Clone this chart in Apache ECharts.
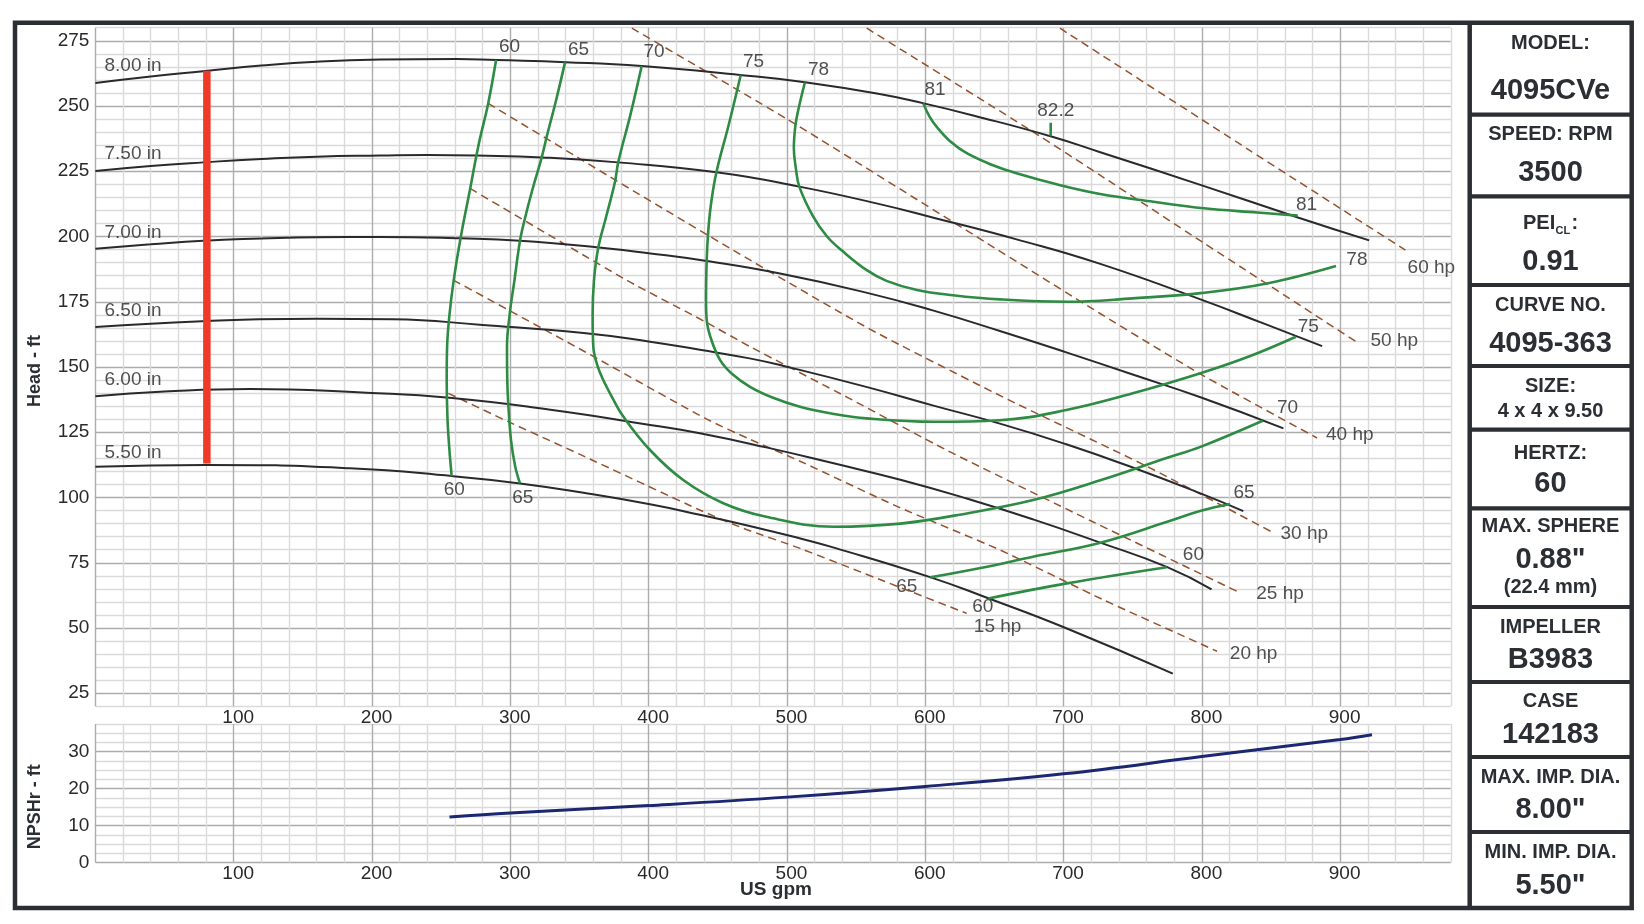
<!DOCTYPE html>
<html><head><meta charset="utf-8">
<script src="https://cdn.jsdelivr.net/npm/echarts/dist/echarts.min.js"></script>
<style>html,body{margin:0;padding:0;background:#fff;}#c{width:1644px;height:924px;}</style>
</head><body><div id="c"></div>
<script>
// ---------- data (US gpm, ft) ----------
const flowTicks = [100, 200, 300, 400, 500, 600, 700, 800, 900];
const headTicks = [25, 50, 75, 100, 125, 150, 175, 200, 225, 250, 275];
const npshTicks = [0, 10, 20, 30];

const imp800 = [[0,258.8],[40,261.3],[78,263.3],[120,265.5],[160,267],[206,267.8],[261,268],[290,267.6],[340,266.8],[395,265.3],[466,261.9],[513,259.1],[567,254.6],[599,251],[636,246.2],[690,238.5],[726,232.4],[800,219.6],[870,207.2],[921,198.5]];
const imp750 = [[0,225.1],[40,227],[78,228.4],[120,229.7],[160,230.6],[206,231],[240,231.2],[276,231],[323,230.3],[378,228.4],[449,224.6],[508,219.2],[567,212.4],[606,207.2],[666,198.9],[726,189.6],[799,175.9],[845,166.6],[887,158]];
const imp700 = [[0,195.3],[40,197],[78,198.4],[120,199.2],[160,199.7],[205,199.8],[264,199.3],[307,198.4],[364,195.8],[400,193.6],[442,190.6],[495,185.8],[558,178.4],[606,171.6],[654,163.8],[702,155.6],[750,147.1],[799,138.4],[859,126.5]];
const imp650 = [[0,165.3],[40,166.6],[80,167.6],[112,168.2],[160,168.5],[215,168.3],[280,166.1],[353,163],[401,159.7],[437,156.6],[473,153.3],[497,150.5],[558,142.3],[606,135.2],[654,128.3],[702,120.4],[750,111.5],[799,101.6],[830,94.8]];
const imp600 = [[0,138.8],[50,140.6],[112,141.6],[196,140.1],[256,138.2],[329,133.6],[401,127.8],[437,124.6],[485,119.2],[533,113.2],[582,106.8],[630,99.6],[678,91.6],[726,82.8],[775,73.3],[807,64.8]];
const imp550 = [[0,111.8],[80,112.5],[184,111.2],[258,108.2],[307,105.4],[353,101.8],[401,97.4],[437,93.4],[473,89.1],[509,84.4],[534,80.8],[604,69.4],[646,61.3],[702,49.9],[779,32.5]];

const eff60 = [[289.7,267.6],[284,251],[277,235],[271,218.4],[264,199.3],[259,183],[256,170],[254.3,157.8],[254,145],[254.6,130],[256,118],[257.6,108.2]];
const eff65 = [[339.6,266.8],[333,252],[326.3,238.2],[322.7,230.3],[316,218],[310.6,207],[307,198.4],[303,183.3],[299.5,170],[297.6,157.8],[297.8,145],[298.5,136],[300.5,122],[303.5,112],[307,105.4]];
const eff70 = [[395,265.3],[387,247],[378,228.4],[375.7,221],[369,207],[363.6,195.8],[360.5,183.3],[359.5,170],[360,157.8],[363,150.5],[367.2,145],[374,138],[381.7,131],[401,118.2],[425,106.7],[454,97.8],[485,92.6],[534,88.8],[582,90],[630,93.9],[678,99],[726,106.5],[775,115.2],[799,119.4],[844,129.4]];
const eff75 = [[466.6,261.9],[458,243],[449,224.6],[445,212],[443,201.2],[442,191],[441.5,175.6],[442,168],[445,161],[451.6,152.7],[460,147.5],[473.3,142.4],[490,138.2],[509.4,134.8],[534,132],[557.7,130.3],[606,129],[654,129.6],[702,133.5],[750,139.9],[799,147.6],[834,154],[868,161.6]];
const eff78 = [[513,259.1],[508,248],[506,242],[505,233.8],[506.5,226],[509,219],[519,207.6],[529,200],[540,194.5],[557.7,187.1],[572,183],[594,179.5],[620,177.5],[654,175.9],[702,175],[750,176.3],[799,178.3],[847,182],[897,188.7]];
const eff81 = [[598.6,251],[603,246],[608.3,242],[618,236.5],[630,231.9],[648,227.5],[666,224.2],[695,220],[726.4,216.3],[765,213.3],[801.6,210.8],[840,209.2],[869.4,208]];
const eff822 = [[690.7,238.4],[690.7,243.6]];
const eff65low = [[603.5,69.4],[640,73],[678,77.3],[726,82.6],[775,90.7],[800,95],[820.4,97.5]];
const eff60low = [[645.6,61.3],[702.3,67.1],[774.6,73.3]];

const hp15 = [[255.2,139.9],[300,128.7],[350,116.6],[437,95.2],[468.5,88.2],[509.5,80.5],[570,68],[630,55.6]];
const hp20 = [[258.8,183.3],[350,157],[441,130.3],[473.3,122.3],[509.5,113.9],[580,96.5],[654,79.9],[730,60.5],[811,41.1]];
const hp25 = [[270.9,218.4],[384,183.3],[441,167.3],[473.3,157.8],[545,138],[615.6,118.1],[720,91],[827.6,63.5]];
const hp30 = [[284,251],[370,223.5],[461,194.8],[560,164.5],[660,137.5],[760,112],[851.7,86.5]];
const hp40 = [[387.9,279.8],[500,245],[644.5,197.5],[726.4,170.5],[800,147],[883.3,122.8]];
const hp50 = [[557.7,279.8],[678,240.1],[726.4,223.5],[800,198],[913.3,159.1]];
const hp60 = [[697.4,279.8],[834.3,233.1],[947.2,194.8]];

const npshr = [[256,12.3],[300,13.4],[400,15.4],[500,17.7],[600,20.6],[700,24.0],[800,28.7],[900,33.3],[923,34.6]];
const minFlowLine = [[80.6,113],[80.6,263.5]];

const effLabels = [[299.4,272.8,'60'],[349.3,271.7,'65'],[403.9,270.6,'70'],[475.8,266.9,'75'],[522.8,263.9,'78'],[607.1,256.1,'81'],[694.4,248,'82.2'],[875.7,212.1,'81'],[912.1,191.2,'78'],[876.9,165.4,'75'],[861.9,134.2,'70'],[830.5,101.9,'65'],[793.9,77.9,'60'],[586.6,65.8,'65'],[641.6,58.1,'60'],[259.5,103.1,'60'],[309,100,'65']];
const hpLabels = [[634.8,50.5,'15 hp'],[819.9,40,'20 hp'],[839,63.3,'25 hp'],[856.5,86.1,'30 hp'],[889.4,123.9,'40 hp'],[921.6,160,'50 hp'],[948.4,188.2,'60 hp']];
const diaLabels = [[6.2,265.4,'8.00 in'],[6.2,231.6,'7.50 in'],[6.2,201.6,'7.00 in'],[6.2,171.7,'6.50 in'],[6.2,145.2,'6.00 in'],[6.2,117,'5.50 in']];

const panelTitles = ['MODEL:','SPEED: RPM','','CURVE NO.','SIZE:','HERTZ:','MAX. SPHERE','IMPELLER','CASE','MAX. IMP. DIA.','MIN. IMP. DIA.'];
const panelValues = ['4095CVe','3500','0.91','4095-363','4 x 4 x 9.50','60','0.88"','B3983','142183','8.00"','5.50"'];
const panelExtra = ['','','','','','','(22.4 mm)','','','',''];

// ---------- layout / style ----------
const FF = "'Liberation Sans', Arial, Helvetica, sans-serif";
const INK = '#2b2e33';
const GRID_L = '#dadada', GRID_D = '#acacac';
const BLACK = '#2a2a2e', GREEN = '#2e8b43', BROWN = '#94532e';

const titleY = [43,134,223,305,386,453,526,627,701,777,852];
const valueY = [91,173,262,344,411,484,560,660,735,810,886];
const valueSize = [29,29,29,29,20,29,29,29,29,29,29];
const extraY = [0,0,0,0,0,0,587,0,0,0,0];
const dividerY = [114.7,196.3,285,366,429.7,508.3,607,682,757,832];
const PX = 1550.5;

const chart = echarts.init(document.getElementById('c'), null, {renderer:'canvas'});

function line(data, color, width, opts) {
  return Object.assign({type:'line', data: data, xAxisIndex:0, yAxisIndex:0, symbol:'none', showSymbol:false,
    clip:true, silent:true, animation:false, lineStyle:{color:color, width:width}}, opts || {});
}
function labels(arr, pos) {
  return {type:'scatter', xAxisIndex:0, yAxisIndex:0, silent:true, animation:false, symbolSize:1,
    itemStyle:{color:'rgba(0,0,0,0)'},
    data: arr.map(d => ({value:[d[0], d[1]], name:d[2]})),
    label:{show:true, position:pos, distance:0, formatter: p => p.name, color:'#262626', fontSize:19, fontFamily:FF}};
}

const series = [];
[hp15,hp20,hp25,hp30,hp40,hp50,hp60].forEach(d => series.push(line(d, BROWN, 1.5, {smooth:0.2, lineStyle:{color:BROWN, width:1.5, type:[8,5]}})));
[imp800,imp750,imp700,imp650,imp600,imp550].forEach(d => series.push(line(d, BLACK, 2, {smooth:0.5})));
[eff60,eff65,eff70,eff75,eff78,eff81,eff822,eff65low,eff60low].forEach(d => series.push(line(d, GREEN, 2.6, {smooth:0.4})));
series.push(line(minFlowLine, '#f03a28', 7.5, {lineStyle:{color:'#f03a28', width:7.5, cap:'butt'}}));
series.push(labels(effLabels, 'inside'));
series.push(labels(hpLabels, 'right'));
series.push(labels(diaLabels, 'right'));
series.push(line(npshr, '#1b2770', 3, {xAxisIndex:1, yAxisIndex:1, smooth:0.4}));

const xColors = [GRID_D, GRID_L, GRID_L, GRID_L, GRID_L];
function xAxis(gi) {
  return {gridIndex:gi, type:'value', min:0, max:980, interval:20,
    axisLine:{show:false}, axisTick:{show:false},
    splitLine:{show:true, lineStyle:{color:xColors, width:1.4}},
    axisLabel:{formatter: v => (flowTicks.indexOf(v) >= 0 ? String(v) : ''), color:'#2a2a2a', fontSize:19, fontFamily:FF, margin:2, padding:[0,0,0,9]}};
}

const graphic = [];
// axis titles
graphic.push({type:'text', x:34.6, y:371, rotation:Math.PI/2, style:{text:'Head - ft', fill:INK, font:'bold 18px ' + FF, align:'center', verticalAlign:'middle'}});
graphic.push({type:'text', x:34.6, y:806.7, rotation:Math.PI/2, style:{text:'NPSHr - ft', fill:INK, font:'bold 18px ' + FF, align:'center', verticalAlign:'middle'}});
graphic.push({type:'text', x:776, y:890, style:{text:'US gpm', fill:INK, font:'bold 19px ' + FF, align:'center', verticalAlign:'middle'}});
// frame
graphic.push({type:'rect', shape:{x:15, y:22.8, width:1616.7, height:885.2}, style:{fill:null, stroke:INK, lineWidth:4.5}, z:100});
graphic.push({type:'line', shape:{x1:1469.7, y1:22.8, x2:1469.7, y2:908}, style:{stroke:INK, lineWidth:4.5}, z:100});
dividerY.forEach(y => graphic.push({type:'line', shape:{x1:1469.7, y1:y, x2:1631.7, y2:y}, style:{stroke:INK, lineWidth:4.2}, z:100}));
// panel texts
panelTitles.forEach((t, i) => {
  if (t) graphic.push({type:'text', x:PX, y:titleY[i], style:{text:t, fill:INK, font:'bold 20px ' + FF, align:'center', verticalAlign:'middle'}, z:101});
  graphic.push({type:'text', x:PX, y:valueY[i], style:{text:panelValues[i], fill:INK, font:'bold ' + valueSize[i] + 'px ' + FF, align:'center', verticalAlign:'middle'}, z:101});
  if (panelExtra[i]) graphic.push({type:'text', x:PX, y:extraY[i], style:{text:panelExtra[i], fill:INK, font:'bold 20px ' + FF, align:'center', verticalAlign:'middle'}, z:101});
});
// PEI with subscript
graphic.push({type:'text', x:1523, y:223, style:{text:'PEI', fill:INK, font:'bold 20px ' + FF, align:'left', verticalAlign:'middle'}, z:101});
graphic.push({type:'text', x:1555.5, y:231, style:{text:'CL', fill:INK, font:'bold 11px ' + FF, align:'left', verticalAlign:'middle'}, z:101});
graphic.push({type:'text', x:1571.5, y:223, style:{text:':', fill:INK, font:'bold 20px ' + FF, align:'left', verticalAlign:'middle'}, z:101});

const option = {
  animation:false,
  backgroundColor:'#ffffff',
  grid:[
    {left:95.4, top:27.7, width:1355.4, height:678.6, outerBoundsMode:'none', containLabel:false},
    {left:95.4, top:724, width:1355.4, height:138.5, outerBoundsMode:'none', containLabel:false}
  ],
  xAxis:[xAxis(0), xAxis(1)],
  yAxis:[
    {gridIndex:0, type:'value', min:20, max:280, interval:5,
      axisLine:{show:false}, axisTick:{show:false},
      splitLine:{show:true, lineStyle:{color:[GRID_L, GRID_D, GRID_L, GRID_L, GRID_L], width:1.4}},
      axisLabel:{formatter: v => (headTicks.indexOf(v) >= 0 ? String(v) : ''), color:'#2a2a2a', fontSize:19, fontFamily:FF, margin:6}},
    {gridIndex:1, type:'value', min:0, max:37.5, interval:2.5,
      axisLine:{show:false}, axisTick:{show:false},
      splitLine:{show:true, lineStyle:{color:[GRID_D, GRID_L, GRID_L, GRID_L], width:1.4}},
      axisLabel:{formatter: v => (npshTicks.indexOf(v) >= 0 ? String(v) : ''), color:'#2a2a2a', fontSize:19, fontFamily:FF, margin:6}}
  ],
  series: series,
  graphic: graphic
};
chart.setOption(option);
</script>
</body></html>
